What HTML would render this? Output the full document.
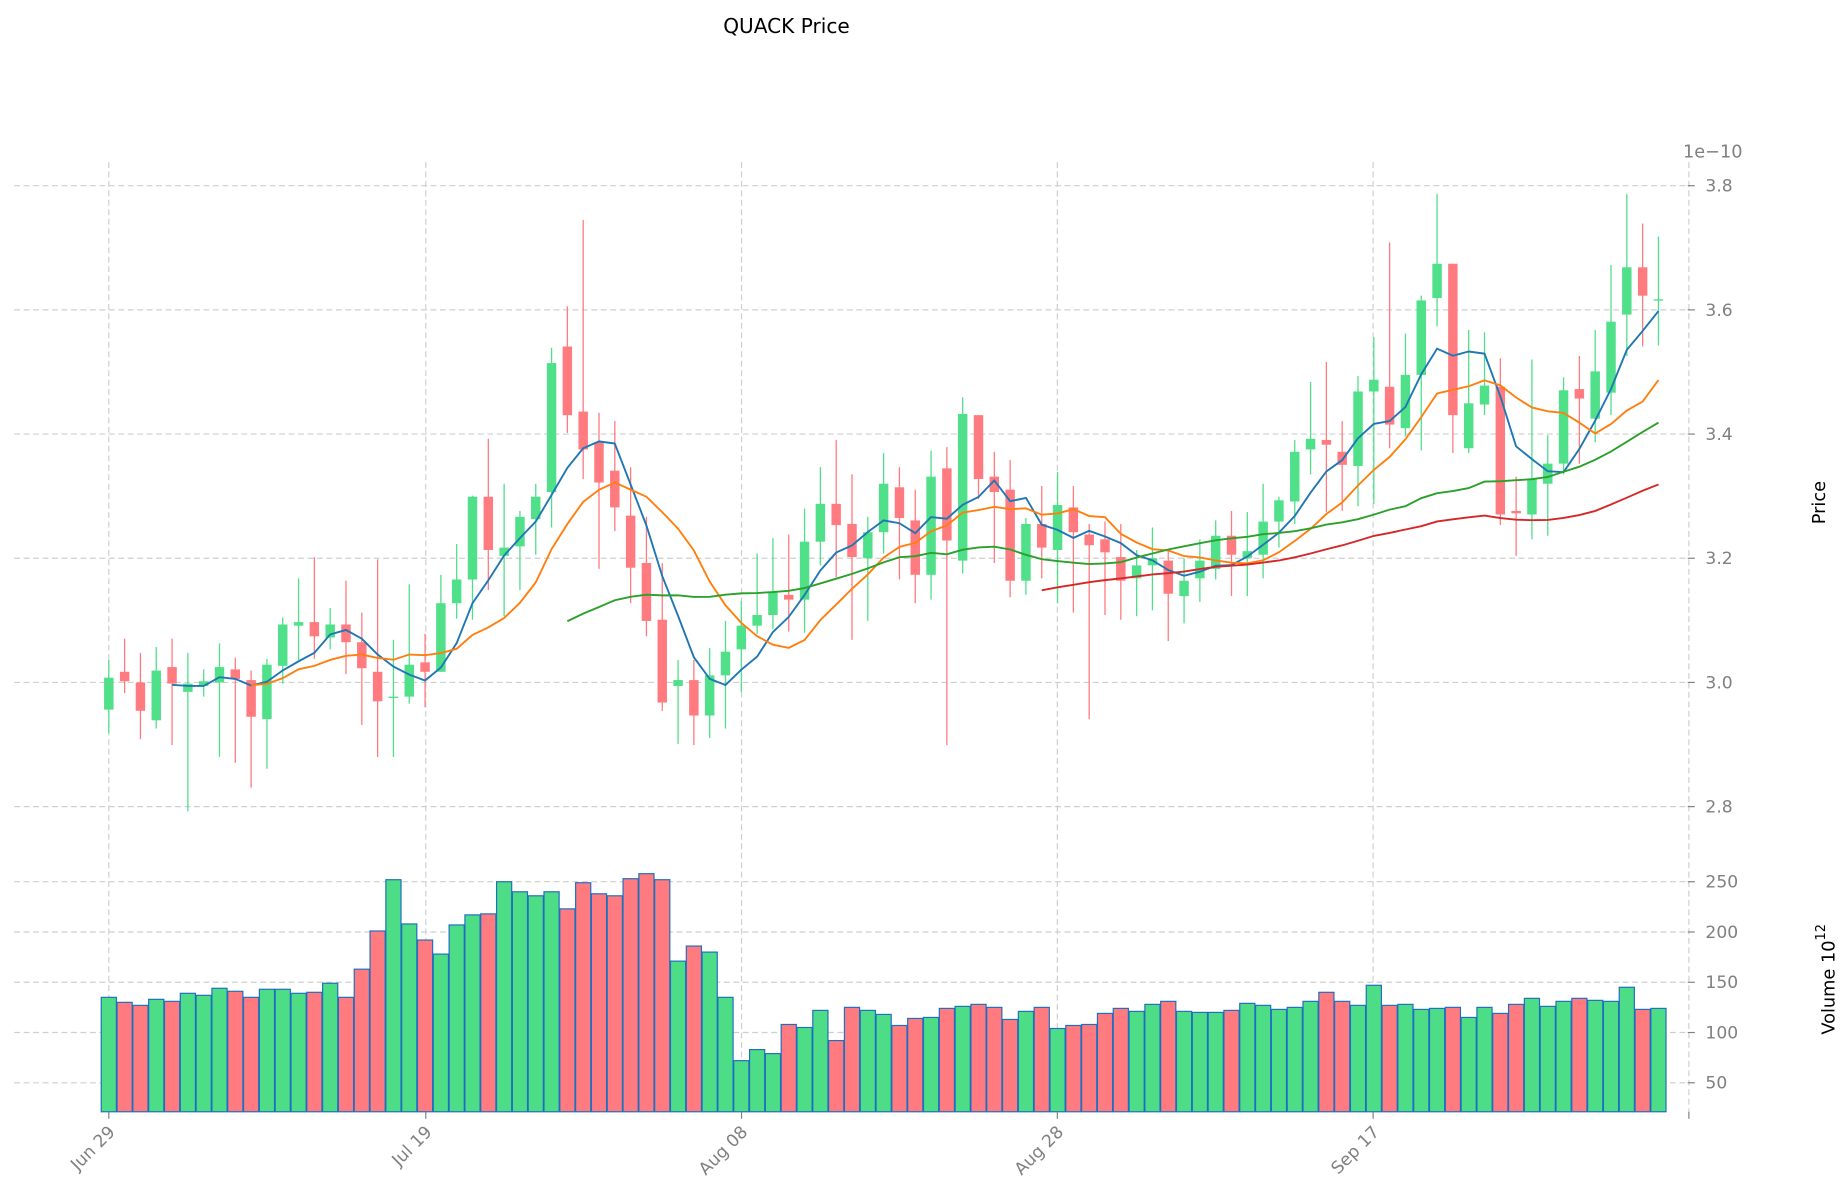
<!DOCTYPE html>
<html><head><meta charset="utf-8"><style>
html,body{margin:0;padding:0;background:#fff;}
svg{display:block;font-family:"DejaVu Sans","Liberation Sans",sans-serif;}
</style></head><body>
<svg id="c" width="1845" height="1202" viewBox="0 0 1560 1016.3" preserveAspectRatio="none" xmlns="http://www.w3.org/2000/svg">
<rect width="1560" height="1016.3" fill="#fff"/>
<text x="665" y="28" font-size="17" text-anchor="middle" fill="#000">QUACK Price</text>
<g id="grid"></g><g id="vol"></g><g id="cand"></g><g id="ma"></g><g id="ax"></g>
<text x="1423" y="133" font-size="15" fill="#808080">1e−10</text>
<text transform="translate(1543,425) rotate(-90)" font-size="15" text-anchor="middle" fill="#000">Price</text>
<text transform="translate(1551,828) rotate(-90)" font-size="15" text-anchor="middle" fill="#000">Volume  10<tspan dy="-8" font-size="11">12</tspan></text>
</svg>
<script>
var D=`0 g 573 600 558 620
1 r 568 576 540 586
2 r 577 601 552 625
3 g 567 609 547 616
4 r 564 578 540 630
5 g 578 585 552 686
6 g 576 580 566 589
7 g 564 577 544 640
8 r 566 574 556 645
9 r 575 606 567 666
10 g 562 608 557 650
11 g 528 563 522 578
12 g 526 529 489 558
13 r 526 538 471 557
14 g 528 539 514 549
15 r 528 543 491 570
16 r 543 565 518 613
17 r 568 593 473 640
18 g 589 590 541 640
19 g 562 589 494 595
20 r 560 568 536 598
21 g 510 568 486 568
22 g 490 510 460 523
23 g 420 490 419 524
24 r 420 465 371 499
25 g 463 470 409 521
26 g 437 462 432 499
27 g 420 439 409 469
28 g 307 416 294 446
29 r 293 351 259 366
30 r 348 380 186 405
31 r 374 408 349 481
32 r 398 429 356 449
33 r 436 480 395 510
34 r 476 525 437 538
35 r 524 594 476 601
36 g 575 580 558 629
37 r 575 605 558 630
38 g 571 605 548 624
39 g 551 571 525 616
40 g 529 549 508 585
41 g 520 529 468 536
42 g 501 520 455 532
43 r 503 507 452 534
44 g 458 507 430 535
45 g 426 458 395 478
46 r 426 444 372 488
47 r 443 471 401 541
48 g 450 472 437 525
49 g 409 450 383 468
50 r 412 438 395 490
51 r 440 486 414 510
52 g 403 486 381 507
53 r 396 457 378 630
54 g 350 474 336 485
55 r 351 405 351 422
56 r 403 416 382 476
57 r 414 491 389 505
58 g 443 491 438 503
59 r 443 463 411 489
60 g 427 465 399 510
61 r 429 450 411 518
62 r 452 461 443 608
63 r 456 467 441 520
64 r 471 491 443 524
65 g 478 489 465 521
66 g 472 478 446 516
67 r 474 502 465 542
68 g 491 504 472 527
69 g 474 489 456 509
70 g 453 481 440 490
71 r 453 469 432 504
72 g 466 472 433 504
73 g 441 469 409 489
74 g 423 441 420 463
75 g 382 424 372 443
76 g 371 380 323 401
77 r 372 376 306 433
78 r 382 393 356 432
79 g 331 394 318 428
80 g 321 331 285 426
81 r 327 359 205 379
82 g 317 362 282 369
83 g 254 317 250 381
84 g 223 252 164 276
85 r 223 351 223 383
86 g 341 379 279 383
87 g 326 342 281 351
88 r 327 435 303 444
89 r 432 434 403 470
90 g 405 435 304 456
91 g 392 409 368 453
92 g 330 392 319 401
93 r 329 337 301 392
94 g 314 354 279 374
95 g 272 332 224 351
96 g 226 266 164 301
97 r 226 250 189 293
98 g 253 254 200 292`;
var V=[135,130,127,133,131,139,137,144,141,135,143,143,139,140,149,135,163,201,252,208,192,178,207,217,218,250,240,236,240,223,249,238,236,253,258,252,171,186,180,135,72,83,79,108,105,122,92,125,122,118,107,114,115,124,126,128,125,113,121,125,104,107,108,119,124,121,128,131,121,120,120,122,129,127,123,125,131,140,131,127,147,127,128,123,124,125,115,125,119,128,134,126,131,134,132,131,145,123,124];
var rows=D.split("\n").map(function(l){var p=l.trim().split(/\s+/);return {c:p[1],t:+p[2],b:+p[3],h:+p[4],l:+p[5]};});
function X(i){return 92+13.37*i;}
var G="#50e08a",R="#ff7b80",s="";
// grid
var g="";
[157,262,367,472,577,682].forEach(function(y){g+='<line x1="12" x2="1427" y1="'+y+'" y2="'+y+'" stroke="#cfcfcf" stroke-dasharray="5,3" stroke-width="1"/>';});
[250,200,150,100,50].forEach(function(v){var y=958-v*0.85;g+='<line x1="12" x2="1427" y1="'+y+'" y2="'+y+'" stroke="#cfcfcf" stroke-dasharray="5,3" stroke-width="1"/>';});
[92,360,627,894,1161,1428].forEach(function(x){g+='<line x1="'+x+'" x2="'+x+'" y1="137" y2="940" stroke="#cfcfcf" stroke-dasharray="5,3" stroke-width="1"/>';});
document.getElementById("grid").innerHTML=g;
// volume
var v="";
V.forEach(function(val,i){var y=958-val*0.85;var c=rows[i].c=="g"?"#4cdd86":R;v+='<rect x="'+(X(i)-6.4)+'" y="'+y+'" width="12.8" height="'+(940-y)+'" fill="'+c+'" stroke="#1f6fc0" stroke-width="1"/>';});
document.getElementById("vol").innerHTML=v;
// candles
var cs="";
rows.forEach(function(r,i){var c=r.c=="g"?G:R;var x=X(i);
cs+='<line x1="'+x+'" x2="'+x+'" y1="'+r.h+'" y2="'+r.l+'" stroke="'+c+'" stroke-width="1.1"/>';
var h=Math.max(r.b-r.t,1.2);cs+='<rect x="'+(x-4)+'" y="'+r.t+'" width="8" height="'+h+'" fill="'+c+'"/>';});
document.getElementById("cand").innerHTML=cs;
// MAs
var cl=rows.map(function(r){return r.c=="g"?r.t:r.b;});
function ma(n,col){var pts=[];for(var i=n-1;i<cl.length;i++){var a=0;for(var k=i-n+1;k<=i;k++)a+=cl[k];pts.push(X(i).toFixed(1)+","+(a/n).toFixed(1));}
return '<polyline points="'+pts.join(" ")+'" fill="none" stroke="'+col+'" stroke-width="1.6"/>';}
document.getElementById("ma").innerHTML=ma(5,"#1f77b4")+ma(10,"#ff7f0e")+ma(30,"#2ca02c")+ma(60,"#d62728");
// axes labels
var a="";
[["3.8",157],["3.6",262],["3.4",367],["3.2",472],["3.0",577],["2.8",682]].forEach(function(t){a+='<line x1="1427" x2="1433" y1="'+t[1]+'" y2="'+t[1]+'" stroke="#808080"/><text x="1442" y="'+(t[1]+5)+'" font-size="14.5" fill="#808080">'+t[0]+'</text>';});
[250,200,150,100,50].forEach(function(val){var y=958-val*0.85;a+='<line x1="1427" x2="1433" y1="'+y+'" y2="'+y+'" stroke="#808080"/><text x="1442" y="'+(y+5)+'" font-size="14.5" fill="#808080">'+val+'</text>';});
[[92,"Jun 29"],[360,"Jul 19"],[627,"Aug 08"],[894,"Aug 28"],[1161,"Sep 17"],[1428,""]].forEach(function(t){a+='<line x1="'+t[0]+'" x2="'+t[0]+'" y1="940" y2="946" stroke="#808080"/>';if(t[1])a+='<text transform="translate('+(t[0]+6)+',958) rotate(-45)" font-size="14.5" text-anchor="end" fill="#808080">'+t[1]+'</text>';});
document.getElementById("ax").innerHTML=a;
</script>
</body></html>
